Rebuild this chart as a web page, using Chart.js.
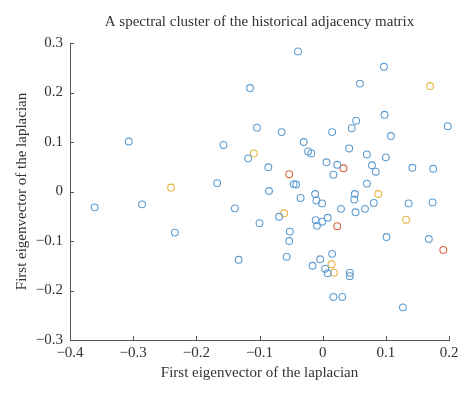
<!DOCTYPE html>
<html>
<head>
<meta charset="utf-8">
<script src="https://cdn.jsdelivr.net/npm/chart.js@4"></script>
<style>
    html, body { margin: 0; padding: 0; background: #fff; }
    #wrap { width: 474px; height: 398px; }
</style>
</head>
<body>
<div id="wrap"><canvas id="scatterChart"></canvas></div>
<script>
// Cluster 1 (blue)
const blueX = [-0.039, 0.097, -0.115, 0.059, 0.098, 0.198, -0.104, -0.065, 0.015, 0.046,
    0.053, 0.108, -0.307, -0.157, -0.030, -0.023, -0.018, -0.118, 0.042, 0.070,
    0.100, 0.078, 0.084, 0.006, 0.023, 0.017, -0.086, 0.142, 0.175, -0.167,
    -0.046, -0.042, 0.070, -0.085, -0.012, 0.051, -0.035, -0.010, -0.001, 0.050,
    0.081, 0.136, 0.174, -0.361, -0.286, -0.139, 0.029, 0.067, 0.052, -0.069,
    0.008, -0.011, -0.001, -0.009, -0.100, -0.234, -0.052, -0.053, 0.101, 0.168,
    0.015, -0.057, -0.133, -0.004, -0.016, 0.004, 0.008, 0.043, 0.043, 0.017,
    0.031, 0.127];
const blueY = [0.283, 0.252, 0.209, 0.218, 0.155, 0.132, 0.129, 0.120, 0.120, 0.128,
    0.143, 0.112, 0.101, 0.094, 0.100, 0.081, 0.077, 0.067, 0.087, 0.075,
    0.069, 0.053, 0.040, 0.059, 0.054, 0.034, 0.049, 0.048, 0.046, 0.017,
    0.015, 0.014, 0.016, 0.001, -0.005, -0.005, -0.013, -0.018, -0.024, -0.016,
    -0.023, -0.024, -0.022, -0.032, -0.026, -0.034, -0.035, -0.035, -0.042, -0.051,
    -0.053, -0.058, -0.061, -0.069, -0.064, -0.083, -0.081, -0.100, -0.092, -0.096,
    -0.126, -0.132, -0.138, -0.137, -0.150, -0.156, -0.165, -0.164, -0.171, -0.213,
    -0.213, -0.234];

// Cluster 2 (yellow)
const yellowX = [0.170, -0.109, -0.240, 0.088, -0.061, 0.132, 0.014, 0.018];
const yellowY = [0.213, 0.077, 0.008, -0.005, -0.044, -0.057, -0.147, -0.164];

// Cluster 3 (red)
const redX = [0.033, -0.053, 0.023, 0.191];
const redY = [0.047, 0.035, -0.070, -0.118];

const xTickLabels = ['\u22120.4', '\u22120.3', '\u22120.2', '\u22120.1', '0', '0.1', '0.2'];
const yTickLabels = ['\u22120.3', '\u22120.2', '\u22120.1', '0', '0.1', '0.2', '0.3'];

const toPoints = (xs, ys) => xs.map((x, i) => ({ x: x, y: ys[i] }));

const FONT = 'Liberation Serif';
const TEXT = '#333';
const AXIS = '#555';

// small ticks pointing into the plot, like the original
const innerTicks = {
    id: 'innerTicks',
    afterDraw(chart) {
        const ctx = chart.ctx;
        const xs = chart.scales.x;
        const ys = chart.scales.y;
        ctx.save();
        ctx.strokeStyle = AXIS;
        ctx.lineWidth = 1;
        ctx.beginPath();
        xs.ticks.forEach(t => {
            const px = Math.round(xs.getPixelForValue(t.value)) + 0.5;
            ctx.moveTo(px, xs.top);
            ctx.lineTo(px, xs.top - 4);
        });
        ys.ticks.forEach(t => {
            const py = Math.round(ys.getPixelForValue(t.value)) + 0.5;
            ctx.moveTo(ys.right, py);
            ctx.lineTo(ys.right + 4, py);
        });
        ctx.stroke();
        ctx.restore();
    }
};

const dotStyle = color => ({
    pointStyle: 'circle',
    pointRadius: 3.4,
    pointHoverRadius: 3.4,
    borderWidth: 1.1,
    borderColor: color,
    backgroundColor: 'rgba(0,0,0,0)',
    clip: false
});

new Chart(document.getElementById('scatterChart'), {
    type: 'scatter',
    data: {
        datasets: [
            { label: 'Cluster 1', data: toPoints(blueX, blueY), ...dotStyle('#5f9dd0') },
            { label: 'Cluster 2', data: toPoints(yellowX, yellowY), ...dotStyle('#e9b443') },
            { label: 'Cluster 3', data: toPoints(redX, redY), ...dotStyle('#d9643e') }
        ]
    },
    options: {
        responsive: true,
        maintainAspectRatio: false,
        animation: false,
        layout: { padding: { left: 0, right: 25, top: 0, bottom: 0 } },
        plugins: {
            legend: { display: false },
            tooltip: { enabled: false },
            title: {
                display: true,
                fullSize: false,
                text: 'A spectral cluster of the historical adjacency matrix',
                color: TEXT,
                font: { family: FONT, size: 15, weight: 'normal' },
                padding: { top: 13, bottom: 12 }
            }
        },
        scales: {
            x: {
                type: 'linear',
                min: -0.4,
                max: 0.2,
                afterFit: s => { s.height = 58; },
                grid: { display: false, drawTicks: false },
                border: { display: true, color: AXIS, width: 1 },
                ticks: {
                    stepSize: 0.1,
                    padding: 4,
                    color: TEXT,
                    font: { family: FONT, size: 15 },
                    callback: (v, i) => xTickLabels[i]
                },
                title: {
                    display: true,
                    text: 'First eigenvector of the laplacian',
                    color: TEXT,
                    font: { family: FONT, size: 15 },
                    padding: { top: 0, bottom: 16 }
                }
            },
            y: {
                type: 'linear',
                min: -0.3,
                max: 0.3,
                afterFit: s => { s.width = 70; },
                grid: { display: false, drawTicks: false },
                border: { display: true, color: AXIS, width: 1 },
                ticks: {
                    stepSize: 0.1,
                    padding: 7,
                    color: TEXT,
                    font: { family: FONT, size: 15 },
                    callback: (v, i) => yTickLabels[i]
                },
                title: {
                    display: true,
                    text: 'First eigenvector of the laplacian',
                    color: TEXT,
                    font: { family: FONT, size: 15 },
                    padding: { top: 13, bottom: 0 }
                }
            }
        }
    },
    plugins: [innerTicks]
});
</script>
</body>
</html>
